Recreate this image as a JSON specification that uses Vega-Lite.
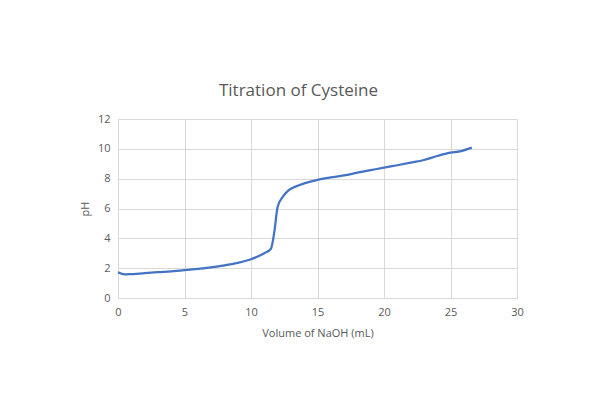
{
  "$schema": "https://vega.github.io/schema/vega-lite/v6.json",
  "autosize": {"type": "none"},
  "padding": {"left": 118, "top": 119, "right": 80, "bottom": 119},
  "width": 399,
  "height": 179,
  "background": "white",
  "title": {
    "text": "Titration of Cysteine",
    "font": "Open Sans",
    "fontSize": 17,
    "fontWeight": "normal",
    "color": "#595959",
    "offset": 13,
    "dx": -19
  },
  "data": {
    "values": [
      {"volume": 0, "ph": 1.72},
      {"volume": 0.5, "ph": 1.58},
      {"volume": 1, "ph": 1.6},
      {"volume": 2, "ph": 1.66},
      {"volume": 3, "ph": 1.73},
      {"volume": 4, "ph": 1.79},
      {"volume": 5, "ph": 1.87},
      {"volume": 6, "ph": 1.96},
      {"volume": 7, "ph": 2.06},
      {"volume": 8, "ph": 2.19},
      {"volume": 9, "ph": 2.36},
      {"volume": 10, "ph": 2.6},
      {"volume": 10.5, "ph": 2.78},
      {"volume": 11, "ph": 3.0},
      {"volume": 11.5, "ph": 3.3},
      {"volume": 11.75, "ph": 4.4},
      {"volume": 12, "ph": 6.1},
      {"volume": 12.4, "ph": 6.8},
      {"volume": 12.8, "ph": 7.2},
      {"volume": 13.3, "ph": 7.45},
      {"volume": 14, "ph": 7.68},
      {"volume": 15, "ph": 7.92},
      {"volume": 16, "ph": 8.08},
      {"volume": 17, "ph": 8.22},
      {"volume": 18, "ph": 8.4},
      {"volume": 19, "ph": 8.57},
      {"volume": 20, "ph": 8.74},
      {"volume": 21, "ph": 8.9},
      {"volume": 22, "ph": 9.07},
      {"volume": 23, "ph": 9.25},
      {"volume": 24, "ph": 9.52},
      {"volume": 25, "ph": 9.74},
      {"volume": 25.7, "ph": 9.83},
      {"volume": 26.6, "ph": 10.08}
    ]
  },
  "mark": {
    "type": "line",
    "color": "#4472C4",
    "strokeWidth": 2.25,
    "interpolate": "monotone"
  },
  "encoding": {
    "x": {
      "field": "volume",
      "type": "quantitative",
      "title": "Volume of NaOH (mL)",
      "scale": {"domain": [0, 30], "nice": false},
      "axis": {"values": [0, 5, 10, 15, 20, 25, 30], "titlePadding": 10, "labelFlush": false}
    },
    "y": {
      "field": "ph",
      "type": "quantitative",
      "title": "pH",
      "scale": {"domain": [0, 12], "nice": false},
      "axis": {"values": [0, 2, 4, 6, 8, 10, 12], "domain": false, "titlePadding": 7}
    }
  },
  "config": {
    "view": {"stroke": null},
    "axis": {
      "labelFont": "Open Sans",
      "titleFont": "Open Sans",
      "labelFontSize": 11,
      "titleFontSize": 11,
      "titleFontWeight": "normal",
      "labelColor": "#595959",
      "titleColor": "#595959",
      "gridColor": "#D9D9D9",
      "gridWidth": 1,
      "domainColor": "#D9D9D9",
      "ticks": false,
      "labelPadding": 8
    }
  }
}
